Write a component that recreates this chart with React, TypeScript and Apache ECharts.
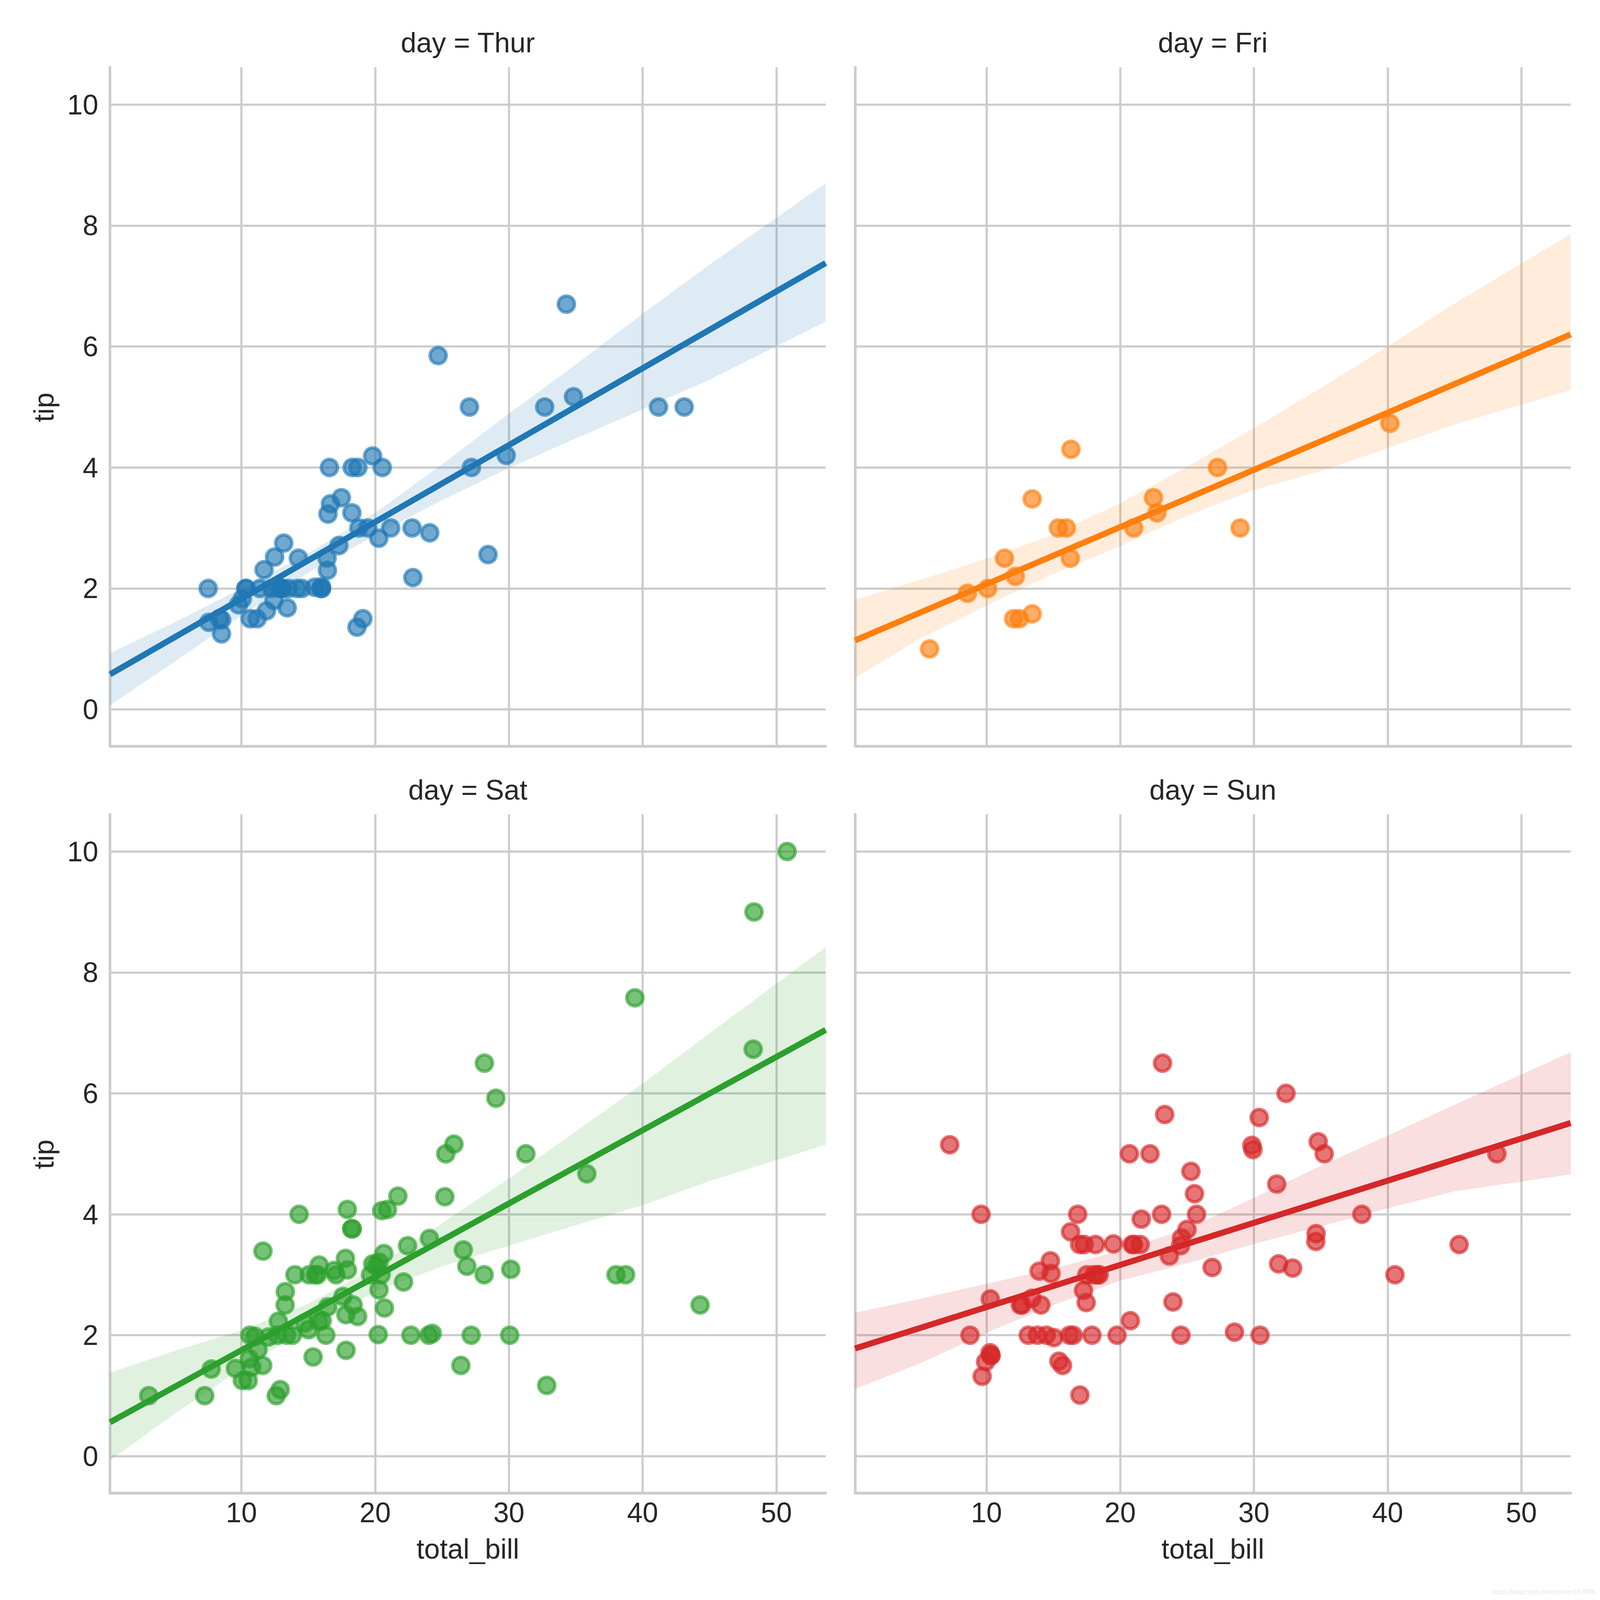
import React, { useEffect, useRef } from 'react';
import * as echarts from 'echarts';

// tips dataset, split by day
const thurBill = [27.2, 22.76, 17.29, 19.44, 16.66, 10.07, 32.68, 15.98, 34.83, 13.03, 18.28, 24.71, 21.16,
	10.65, 12.43, 24.08, 11.69, 13.42, 14.26, 15.95, 12.48, 29.8, 8.52, 14.52, 11.38, 22.82, 19.08, 20.27,
	11.17, 12.26, 18.26, 8.51, 10.33, 14.15, 16.0, 13.16, 17.47, 34.3, 41.19, 27.05, 16.43, 8.35, 18.64,
	11.87, 9.78, 7.51, 19.81, 28.44, 15.48, 16.58, 7.56, 10.34, 43.11, 13.0, 13.51, 18.71, 12.74, 13.0,
	16.4, 20.53, 16.47, 18.78];
const thurTip = [4.0, 3.0, 2.71, 3.0, 3.4, 1.83, 5.0, 2.03, 5.17, 2.0, 4.0, 5.85, 3.0,
	1.5, 1.8, 2.92, 2.31, 1.68, 2.5, 2.0, 2.52, 4.2, 1.48, 2.0, 2.0, 2.18, 1.5, 2.83,
	1.5, 2.0, 3.25, 1.25, 2.0, 2.0, 2.0, 2.75, 3.5, 6.7, 5.0, 5.0, 2.3, 1.5, 1.36,
	1.63, 1.73, 2.0, 4.19, 2.56, 2.02, 4.0, 1.44, 2.0, 5.0, 2.0, 2.0, 4.0, 2.01, 2.0,
	2.5, 4.0, 3.23, 3.0];

const friBill = [28.97, 22.49, 5.75, 16.32, 22.75, 40.17, 27.28, 12.03, 21.01, 12.46, 11.35, 15.38,
	12.16, 13.42, 8.58, 15.98, 13.42, 16.27, 10.09];
const friTip = [3.0, 3.5, 1.0, 4.3, 3.25, 4.73, 4.0, 1.5, 3.0, 1.5, 2.5, 3.0,
	2.2, 3.48, 1.92, 3.0, 1.58, 2.5, 2.0];

const satBill = [20.65, 17.92, 20.29, 15.77, 39.42, 19.82, 17.81, 13.37, 12.69, 21.7, 19.65, 9.55, 18.35,
	15.06, 20.69, 17.78, 24.06, 16.31, 16.93, 18.69, 31.27, 16.04,
	38.01, 26.41, 11.24, 48.27, 20.29, 13.81, 11.02, 18.29, 17.59, 20.08, 16.45, 3.07, 20.23, 15.01,
	12.02, 17.07, 26.86, 25.28, 14.73, 10.51, 17.92,
	44.3, 22.42, 20.92, 15.36, 20.49, 25.21, 18.24, 14.31, 14.0, 7.25,
	10.59, 10.63, 50.81, 15.81,
	26.59, 38.73, 24.27, 12.76, 30.06, 25.89, 48.33, 13.27, 28.17, 12.9, 28.15, 11.59, 7.74, 30.14,
	20.45, 13.28, 22.12, 24.01, 15.69, 11.61, 10.77, 15.53, 10.07, 12.6, 32.83, 35.83, 29.03, 27.18,
	22.67, 17.82];
const satTip = [3.35, 4.08, 2.75, 2.23, 7.58, 3.18, 2.34, 2.0, 2.0, 4.3, 3.0, 1.45, 2.5,
	3.0, 2.45, 3.27, 3.6, 2.0, 3.07, 2.31, 5.0, 2.24,
	3.0, 1.5, 1.76, 6.73, 3.21, 2.0, 1.98, 3.76, 2.64, 3.15, 2.47, 1.0, 2.01, 2.09,
	1.97, 3.0, 3.14, 5.0, 2.2, 1.25, 3.08,
	2.5, 3.48, 4.08, 1.64, 4.06, 4.29, 3.76, 4.0, 3.0, 1.0,
	1.61, 2.0, 10.0, 3.16,
	3.41, 3.0, 2.03, 2.23, 2.0, 5.16, 9.0, 2.5, 6.5, 1.1, 3.0, 1.5, 1.44, 3.09,
	3.0, 2.72, 2.88, 2.0, 3.0, 3.39, 1.47, 3.0, 1.25, 1.0, 1.17, 4.67, 5.92, 2.0,
	2.0, 1.75];

const sunBill = [16.99, 10.34, 21.01, 23.68, 24.59, 25.29, 8.77, 26.88, 15.04, 14.78, 10.27, 35.26, 15.42,
	18.43, 14.83, 21.58, 10.33, 16.29, 16.97,
	17.46, 13.94, 9.68, 30.4, 18.29, 22.23, 32.4, 28.55, 18.04, 12.54, 10.29, 34.81, 9.94, 25.56, 19.49,
	38.07, 23.95, 25.71, 17.31, 29.93,
	14.07, 13.13, 17.26, 24.55, 19.77, 29.85, 48.17, 25.0, 13.39, 16.49, 21.5, 12.66, 16.21, 13.81,
	17.51, 24.52, 20.76, 31.71,
	7.25, 31.85, 16.82, 32.9, 17.89, 14.48, 9.6, 34.63, 34.65, 23.33, 45.35, 23.17, 40.55, 20.69,
	20.9, 30.46, 18.15, 23.1, 15.69];
const sunTip = [1.01, 1.66, 3.5, 3.31, 3.61, 4.71, 2.0, 3.12, 1.96, 3.23, 1.71, 5.0, 1.57,
	3.0, 3.02, 3.92, 1.67, 3.71, 3.5,
	2.54, 3.06, 1.32, 5.6, 3.0, 5.0, 6.0, 2.05, 3.0, 2.5, 2.6, 5.2, 1.56, 4.34, 3.51,
	4.0, 2.55, 4.0, 3.5, 5.07,
	2.5, 2.0, 2.74, 2.0, 2.0, 5.14, 5.0, 3.75, 2.61, 2.0, 3.5, 2.5, 2.0, 2.0,
	3.0, 3.48, 2.24, 4.5,
	5.15, 3.18, 4.0, 3.11, 2.0, 2.0, 4.0, 3.55, 3.68, 5.65, 3.5, 6.5, 3.0, 5.0,
	3.5, 2.0, 3.5, 4.0, 1.5];

// axis extents
const X_RANGE = [0.17, 53.69];
const Y_RANGE = [-0.61, 10.615];

// regression line ends (at X_RANGE) and the 95% bands
const thurLine = [0.58, 7.38];
const friLine = [1.14, 6.2];
const satLine = [0.56, 7.05];
const sunLine = [1.78, 5.51];

const bandX = [0.17, 5, 10, 15, 20, 25, 30, 35, 40, 45, 53.69];
const thurHigh = [0.93, 1.44, 2.0, 2.58, 3.25, 4.05, 4.89, 5.7, 6.54, 7.35, 8.7];
const thurLow = [0.07, 0.79, 1.55, 2.26, 2.88, 3.46, 3.99, 4.48, 4.96, 5.45, 6.41];
const friHigh = [1.81, 2.14, 2.49, 2.89, 3.41, 4.01, 4.65, 5.31, 6.0, 6.71, 7.86];
const friLow = [0.52, 1.17, 1.72, 2.24, 2.7, 3.2, 3.63, 3.94, 4.32, 4.71, 5.28];
const satHigh = [1.38, 1.74, 2.08, 2.52, 3.12, 3.85, 4.59, 5.37, 6.16, 6.99, 8.42];
const satLow = [-0.07, 0.7, 1.45, 2.12, 2.72, 3.14, 3.48, 3.82, 4.15, 4.55, 5.15];
const sunHigh = [2.37, 2.6, 2.85, 3.1, 3.4, 3.76, 4.27, 4.8, 5.3, 5.81, 6.68];
const sunLow = [1.11, 1.53, 2.04, 2.5, 2.9, 3.19, 3.51, 3.8, 4.1, 4.38, 4.66];

const FONT = "'Liberation Sans', Arial, sans-serif";
const TEXT = '#262626';
const GRID_COLOR = '#cccccc';

const panels = [
	{ title: 'day = Thur', bill: thurBill, tip: thurTip, line: thurLine, high: thurHigh, low: thurLow, rgb: [31, 119, 180] },
	{ title: 'day = Fri', bill: friBill, tip: friTip, line: friLine, high: friHigh, low: friLow, rgb: [255, 127, 14] },
	{ title: 'day = Sat', bill: satBill, tip: satTip, line: satLine, high: satHigh, low: satLow, rgb: [44, 160, 44] },
	{ title: 'day = Sun', bill: sunBill, tip: sunTip, line: sunLine, high: sunHigh, low: sunLow, rgb: [214, 39, 40] }
];

// facet boxes, in pixels of a 4800 x 4800 figure (scaled to the page below)
const boxes = [
	{ left: 330, top: 202, height: 2037 },
	{ left: 2565, top: 202, height: 2037 },
	{ left: 330, top: 2443, height: 2036 },
	{ left: 2565, top: 2443, height: 2036 }
];
const BOX_W = 2147;
const FIG = 4800;

const rgba = (c: number[], a: number) => `rgba(${c[0]},${c[1]},${c[2]},${a})`;

const App: React.FC = () => {
	const chartRef = useRef<HTMLDivElement>(null);

	useEffect(() => {
		const el = chartRef.current;
		if (!el) return;
		const side = Math.min(el.clientWidth, el.clientHeight) || FIG;
		const s = side / FIG;
		const px = (v: number) => v * s;

		const chart = echarts.init(el, undefined, { renderer: 'svg', width: side, height: side });

		const series: any[] = [];
		panels.forEach((p, i) => {
			series.push({
				type: 'scatter',
				xAxisIndex: i,
				yAxisIndex: i,
				z: 2,
				symbol: 'circle',
				symbolSize: px(49),
				data: p.bill.map((b, k) => [b, p.tip[k]]),
				itemStyle: { color: rgba(p.rgb, 0.8), borderColor: rgba(p.rgb, 0.8), borderWidth: px(10) },
				emphasis: { disabled: true }
			});
			series.push({
				type: 'custom',
				xAxisIndex: i,
				yAxisIndex: i,
				z: 3,
				clip: true,
				data: [[bandX[0], p.low[0]]],
				encode: { x: 0, y: 1 },
				renderItem: (_params: any, api: any) => {
					const pts: number[][] = [];
					for (let k = 0; k < bandX.length; k++) pts.push(api.coord([bandX[k], p.high[k]]));
					for (let k = bandX.length - 1; k >= 0; k--) pts.push(api.coord([bandX[k], p.low[k]]));
					return { type: 'polygon', shape: { points: pts }, style: { fill: rgba(p.rgb, 0.15) } };
				}
			});
			series.push({
				type: 'line',
				xAxisIndex: i,
				yAxisIndex: i,
				z: 4,
				symbol: 'none',
				data: [[X_RANGE[0], p.line[0]], [X_RANGE[1], p.line[1]]],
				lineStyle: { color: rgba(p.rgb, 1), width: px(18) },
				emphasis: { disabled: true }
			});
		});

		const graphic: any[] = [];
		const textStyle = (text: string) => ({
			text,
			fontSize: px(84),
			fontFamily: FONT,
			fill: TEXT,
			align: 'center',
			verticalAlign: 'middle',
			textAlign: 'center',
			textVerticalAlign: 'middle'
		});
		panels.forEach((p, i) => {
			const b = boxes[i];
			const cx = px(b.left + BOX_W / 2);
			graphic.push({ type: 'text', x: cx, y: px(b.top - 74), style: textStyle(p.title) });
			if (i >= 2) graphic.push({ type: 'text', x: cx, y: px(4647), style: textStyle('total_bill') });
			if (i % 2 === 0) {
				graphic.push({ type: 'text', x: px(131), y: px(b.top + 1020), rotation: Math.PI / 2, style: textStyle('tip') });
			}
		});
		// faint source watermark in the bottom-right corner
		graphic.push({
			type: 'text',
			x: px(4785),
			y: px(4775),
			style: {
				text: 'https://blog.csdn.net/chenran187906',
				fontSize: px(19),
				fontFamily: FONT,
				fill: '#e6e6e6',
				align: 'right',
				verticalAlign: 'middle',
				textAlign: 'right',
				textVerticalAlign: 'middle'
			}
		});

		const option: any = {
			animation: false,
			backgroundColor: '#ffffff',
			grid: boxes.map(b => ({
				left: px(b.left),
				top: px(b.top),
				width: px(BOX_W),
				height: px(b.height),
				containLabel: false
			})),
			xAxis: panels.map((_p, i) => ({
				type: 'value',
				gridIndex: i,
				min: X_RANGE[0],
				max: X_RANGE[1],
				minInterval: 10,
				maxInterval: 10,
				axisLine: { show: true, onZero: false, lineStyle: { color: GRID_COLOR, width: px(8) } },
				axisTick: { show: false },
				axisLabel: {
					show: i >= 2,
					showMinLabel: false,
					showMaxLabel: false,
					fontSize: px(84),
					fontFamily: FONT,
					color: TEXT,
					margin: px(16)
				},
				splitLine: {
					show: true,
					showMinLine: false,
					showMaxLine: false,
					lineStyle: { color: GRID_COLOR, width: px(6.5) }
				}
			})),
			yAxis: panels.map((_p, i) => ({
				type: 'value',
				gridIndex: i,
				min: Y_RANGE[0],
				max: Y_RANGE[1],
				minInterval: 2,
				maxInterval: 2,
				axisLine: { show: true, onZero: false, lineStyle: { color: GRID_COLOR, width: px(8) } },
				axisTick: { show: false },
				axisLabel: {
					show: i % 2 === 0,
					showMinLabel: false,
					showMaxLabel: false,
					fontSize: px(84),
					fontFamily: FONT,
					color: TEXT,
					margin: px(35)
				},
				splitLine: {
					show: true,
					showMinLine: false,
					showMaxLine: false,
					lineStyle: { color: GRID_COLOR, width: px(6.5) }
				}
			})),
			graphic,
			series
		};

		chart.setOption(option);

		return () => {
			chart.dispose();
		};
	}, []);

	return (
		<div
			ref={chartRef}
			style={{ position: 'fixed', left: 0, top: 0, width: '100vw', height: '100vh', background: '#ffffff' }}
		/>
	);
};

export default App;
